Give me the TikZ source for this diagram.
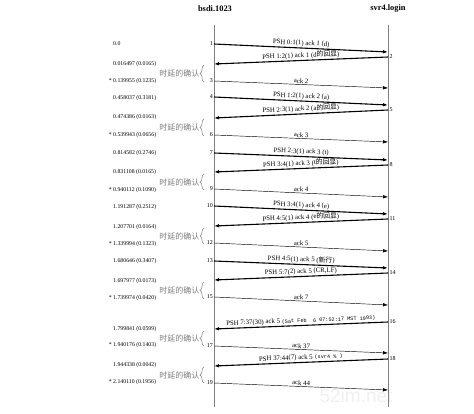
\documentclass[tikz,border=0pt]{standalone}
\usepackage{fontspec}
\setmainfont{Liberation Serif}
\setmonofont{Liberation Mono}
\setsansfont{Liberation Sans}
\newfontfamily\cjk{Noto Sans CJK SC}
\newcommand{\termtext}[1]{{\fontsize{5.2}{6}\ttfamily #1}}
\usetikzlibrary{arrows.meta,positioning,decorations.pathreplacing}

\begin{document}
\begin{tikzpicture}[x=1pt, y=-1pt,
		HostStyle/.style={inner sep=0pt, font=\fontsize{8.4}{9}\selectfont\bfseries},
		TimeStyle/.style={anchor=west, inner sep=0pt, font=\fontsize{5.8}{6}\selectfont},
		NumStyle/.style={inner sep=0pt, font=\fontsize{6}{7}\selectfont},
		DataArrow/.style={line width=1.1pt, -{Latex[length=5pt, width=3.5pt]}},
		AckArrow/.style={line width=0.45pt, -{Latex[length=5pt, width=3.5pt]}},
		SegLabel/.style={sloped, above, inner sep=1pt, font=\fontsize{6.8}{7}\selectfont},
		DelayBrace/.style={draw=gray, line width=0.5pt, decorate, decoration={brace, amplitude=4pt}},
		DelayText/.style={left=4.5pt, inner sep=0pt, text=gray, font=\fontsize{8}{9}\cjk}]
		\fill[white] (0,0) rectangle (474,414);
		\useasboundingbox (0,0) rectangle (474,414);
		\node[text=gray!12, font=\fontsize{19}{20}\sffamily] (mark) at (356,396) {52im.net};
		\node[HostStyle] (bsdi) at (215,9) {bsdi.1023};
		\node[HostStyle] (svr) at (388,9) {svr4.login};
		\coordinate (LTop) at (214,25);
		\coordinate (LBot) at (214,407);
		\coordinate (RTop) at (388,25);
		\coordinate (RBot) at (388,407);
		\draw[gray, line width=0.6pt] (LTop) -- (LBot);
		\draw[gray, line width=0.6pt] (RTop) -- (RBot);
		\coordinate (s1a) at (214,44); \coordinate (s1b) at (388,52);
		\draw[DataArrow] (s1a) to node[SegLabel] {PSH 0:1(1) ack 1 (d)} (s1b);
		\node[NumStyle, left=1pt of s1a] (n1) {1};
		\coordinate (s2a) at (388,57); \coordinate (s2b) at (214,64);
		\draw[DataArrow] (s2a) to node[SegLabel] {PSH 1:2(1) ack 1 (d{\cjk 的回显})} (s2b);
		\node[NumStyle, right=1.5pt of s2a] (n2) {2};
		\coordinate (s3a) at (214,81); \coordinate (s3b) at (388,88);
		\draw[AckArrow] (s3a) to node[SegLabel] {ack 2} (s3b);
		\node[NumStyle, left=1pt of s3a] (n3) {3};
		\coordinate (s4a) at (214,97); \coordinate (s4b) at (388,105);
		\draw[DataArrow] (s4a) to node[SegLabel] {PSH 1:2(1) ack 2 (a)} (s4b);
		\node[NumStyle, left=1pt of s4a] (n4) {4};
		\coordinate (s5a) at (388,110); \coordinate (s5b) at (214,118);
		\draw[DataArrow] (s5a) to node[SegLabel] {PSH 2:3(1) ack 2 (a{\cjk 的回显})} (s5b);
		\node[NumStyle, right=1.5pt of s5a] (n5) {5};
		\coordinate (s6a) at (214,135); \coordinate (s6b) at (388,142);
		\draw[AckArrow] (s6a) to node[SegLabel] {ack 3} (s6b);
		\node[NumStyle, left=1pt of s6a] (n6) {6};
		\coordinate (s7a) at (214,153); \coordinate (s7b) at (388,160);
		\draw[DataArrow] (s7a) to node[SegLabel] {PSH 2:3(1) ack 3 (t)} (s7b);
		\node[NumStyle, left=1pt of s7a] (n7) {7};
		\coordinate (s8a) at (388,165); \coordinate (s8b) at (214,172);
		\draw[DataArrow] (s8a) to node[SegLabel] {PSH 3:4(1) ack 3 (t{\cjk 的回显})} (s8b);
		\node[NumStyle, right=1.5pt of s8a] (n8) {8};
		\coordinate (s9a) at (214,189); \coordinate (s9b) at (388,197);
		\draw[AckArrow] (s9a) to node[SegLabel] {ack 4} (s9b);
		\node[NumStyle, left=1pt of s9a] (n9) {9};
		\coordinate (s10a) at (214,206); \coordinate (s10b) at (388,214);
		\draw[DataArrow] (s10a) to node[SegLabel] {PSH 3:4(1) ack 4 (e)} (s10b);
		\node[NumStyle, left=1pt of s10a] (n10) {10};
		\coordinate (s11a) at (388,219); \coordinate (s11b) at (214,226);
		\draw[DataArrow] (s11a) to node[SegLabel] {PSH 4:5(1) ack 4 (e{\cjk 的回显})} (s11b);
		\node[NumStyle, right=1.5pt of s11a] (n11) {11};
		\coordinate (s12a) at (214,243); \coordinate (s12b) at (388,251);
		\draw[AckArrow] (s12a) to node[SegLabel] {ack 5} (s12b);
		\node[NumStyle, left=1pt of s12a] (n12) {12};
		\coordinate (s13a) at (214,261); \coordinate (s13b) at (388,268);
		\draw[DataArrow] (s13a) to node[SegLabel] {PSH 4:5(1) ack 5 ({\cjk 新行})} (s13b);
		\node[NumStyle, left=1pt of s13a] (n13) {13};
		\coordinate (s14a) at (388,273); \coordinate (s14b) at (214,280);
		\draw[DataArrow] (s14a) to node[SegLabel] {PSH 5:7(2) ack 5 (CR,LF)} (s14b);
		\node[NumStyle, right=1.5pt of s14a] (n14) {14};
		\coordinate (s15a) at (214,297); \coordinate (s15b) at (388,305);
		\draw[AckArrow] (s15a) to node[SegLabel] {ack 7} (s15b);
		\node[NumStyle, left=1pt of s15a] (n15) {15};
		\coordinate (s16a) at (388,322); \coordinate (s16b) at (214,329);
		\draw[DataArrow] (s16a) to node[SegLabel] {PSH 7:37(30) ack 5 \termtext{(Sat Feb\ \ 6 07:52:17 MST 1993)}} (s16b);
		\node[NumStyle, right=1.5pt of s16a] (n16) {16};
		\coordinate (s17a) at (214,346); \coordinate (s17b) at (388,353);
		\draw[AckArrow] (s17a) to node[SegLabel] {ack 37} (s17b);
		\node[NumStyle, left=1pt of s17a] (n17) {17};
		\coordinate (s18a) at (388,359); \coordinate (s18b) at (214,366);
		\draw[DataArrow] (s18a) to node[SegLabel] {PSH 37:44(7) ack 5 \termtext{(svr4 \% )}} (s18b);
		\node[NumStyle, right=1.5pt of s18a] (n18) {18};
		\coordinate (s19a) at (214,383); \coordinate (s19b) at (388,390);
		\draw[AckArrow] (s19a) to node[SegLabel] {ack 44} (s19b);
		\node[NumStyle, left=1pt of s19a] (n19) {19};
		\node[TimeStyle] (t1) at (113,44) {0.0};
		\node[TimeStyle] (t2) at (113,64) {0.016497 (0.0165)};
		\node[TimeStyle] (t3) at (113,81) {\llap{*\ }0.139955 (0.1235)};
		\node[TimeStyle] (t4) at (113,98) {0.458037 (0.3181)};
		\node[TimeStyle] (t5) at (113,117) {0.474386 (0.0163)};
		\node[TimeStyle] (t6) at (113,135) {\llap{*\ }0.539943 (0.0656)};
		\node[TimeStyle] (t7) at (113,153) {0.814582 (0.2746)};
		\node[TimeStyle] (t8) at (113,172) {0.831108 (0.0165)};
		\node[TimeStyle] (t9) at (113,190) {\llap{*\ }0.940112 (0.1090)};
		\node[TimeStyle] (t10) at (113,207) {1.191287 (0.2512)};
		\node[TimeStyle] (t11) at (113,227) {1.207701 (0.0164)};
		\node[TimeStyle] (t12) at (113,244) {\llap{*\ }1.339994 (0.1323)};
		\node[TimeStyle] (t13) at (113,261) {1.680646 (0.3407)};
		\node[TimeStyle] (t14) at (113,281) {1.697977 (0.0173)};
		\node[TimeStyle] (t15) at (113,298) {\llap{*\ }1.739974 (0.0420)};
		\node[TimeStyle] (t16) at (113,329) {1.799841 (0.0599)};
		\node[TimeStyle] (t17) at (113,345) {\llap{*\ }1.940176 (0.1403)};
		\node[TimeStyle] (t18) at (113,365) {1.944338 (0.0042)};
		\node[TimeStyle] (t19) at (113,382) {\llap{*\ }2.140110 (0.1956)};
		\coordinate (b1a) at (204,82); \coordinate (b1b) at (204,65);
		\draw[DelayBrace] (b1a) -- node[DelayText] (d1) {时延的确认} (b1b);
		\coordinate (b2a) at (204,136); \coordinate (b2b) at (204,119);
		\draw[DelayBrace] (b2a) -- node[DelayText] (d2) {时延的确认} (b2b);
		\coordinate (b3a) at (204,190); \coordinate (b3b) at (204,174);
		\draw[DelayBrace] (b3a) -- node[DelayText] (d3) {时延的确认} (b3b);
		\coordinate (b4a) at (204,244); \coordinate (b4b) at (204,228);
		\draw[DelayBrace] (b4a) -- node[DelayText] (d4) {时延的确认} (b4b);
		\coordinate (b5a) at (204,299); \coordinate (b5b) at (204,282);
		\draw[DelayBrace] (b5a) -- node[DelayText] (d5) {时延的确认} (b5b);
		\coordinate (b6a) at (204,346); \coordinate (b6b) at (204,331);
		\draw[DelayBrace] (b6a) -- node[DelayText] (d6) {时延的确认} (b6b);
		\coordinate (b7a) at (204,383); \coordinate (b7b) at (204,367);
		\draw[DelayBrace] (b7a) -- node[DelayText] (d7) {时延的确认} (b7b);
	\end{tikzpicture}
\end{document}
